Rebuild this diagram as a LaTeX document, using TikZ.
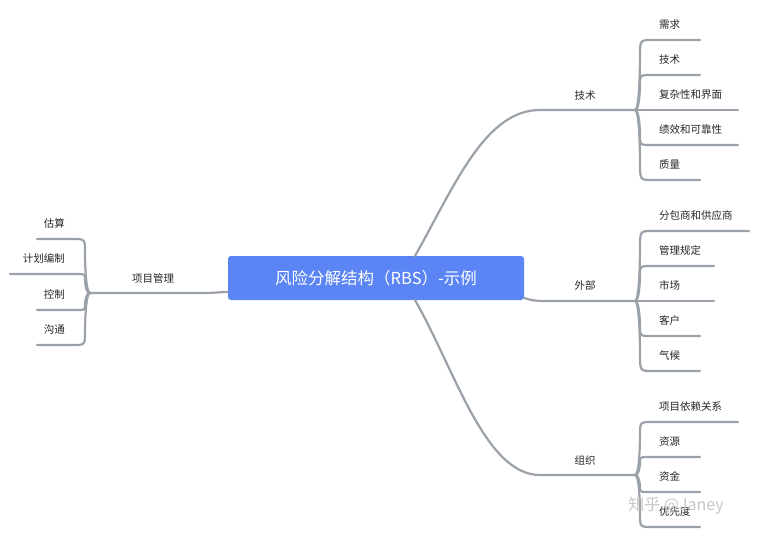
\documentclass[tikz,border=0pt]{standalone}
\usepackage{fontspec}
\setmainfont{Noto Sans CJK SC}
\begin{document}
\begin{tikzpicture}[x=1pt,y=-1pt,
  br/.style={draw=ln, line width=2.2pt, line cap=round},
  lbl/.style={font=\fontsize{10.5}{11}\selectfont, text=black!85, inner sep=0pt, anchor=base west},
  root/.style={fill=rootc, rounded corners=3pt, text=white, font=\fontsize{16.5}{17}\selectfont, minimum width=296pt, minimum height=44pt}]
\definecolor{ln}{HTML}{9BA1A8}
\definecolor{rootc}{HTML}{5B84F5}
\useasboundingbox (0,0) rectangle (760,539);
\node[root] (R) at (376,278) {风险分解结构（RBS）-示例};
% main branches
\node[lbl,anchor=base] (t) at (585,99) {技术};
\node[lbl,anchor=base] (w) at (585,289) {外部};
\node[lbl,anchor=base] (z) at (585,464) {组织};
\node[lbl,anchor=base] (p) at (153,282) {项目管理};
\coordinate (th) at (635,110); \coordinate (wh) at (635,301); \coordinate (zh) at (635,475); \coordinate (ph) at (90,293);
\draw[br] (415,256) .. controls (455,185) and (485,110) .. (540,110) -- (th);
\draw[br] (R.east) ++(0,20) .. controls (530,300) and (535,301) .. (545,301) -- (wh);
\draw[br] (415,300) .. controls (455,370) and (485,475) .. (540,475) -- (zh);
\draw[br] (R.west) ++(0,14) .. controls (220,292) and (215,293) .. (200,293) -- (ph);
% children right
\foreach \hub/\hy/\base/\items in {th/110/28/{需求/700,技术/700,复杂性和界面/738,绩效和可靠性/738,质量/700},
  wh/301/219/{分包商和供应商/749,管理规定/714,市场/714,客户/700,气候/700},
  zh/475/410/{项目依赖关系/738,资源/700,资金/700,优先度/700}}{
  \foreach \t/\e [count=\i from 0] in \items {
    \pgfmathsetmacro{\yy}{\base+35*\i}
    \node[lbl] (n\hub\i) at (659,\yy) {\t};
    \pgfmathsetmacro{\ul}{\yy+12}
    \pgfmathsetmacro{\ma}{\hy+0.75*(\ul-\hy)}
    \draw[br] (\hub) .. controls (640,\hy) and (640,\ma) .. (640,\ma) .. controls (640,\ul) .. (652,\ul) -- (\e,\ul);
  }
}
% left children
\foreach \t/\y/\s [count=\i] in {估算/227/37,计划编制/262/10,控制/298/37,沟通/333/37}{
  \node[lbl,anchor=base east] (l\i) at (65,\y) {\t};
  \pgfmathsetmacro{\ul}{\y+12}
  \pgfmathsetmacro{\ma}{293+0.75*(\ul-293)}
  \draw[br] (ph) .. controls (85,293) and (85,\ma) .. (85,\ma) .. controls (85,\ul) .. (73,\ul) -- (\s,\ul);
}
\node[font=\fontsize{16}{17}\selectfont, text=gray!45, inner sep=0pt] (wm) at (676,506) {知乎 @Janey};
\end{tikzpicture}
\end{document}
